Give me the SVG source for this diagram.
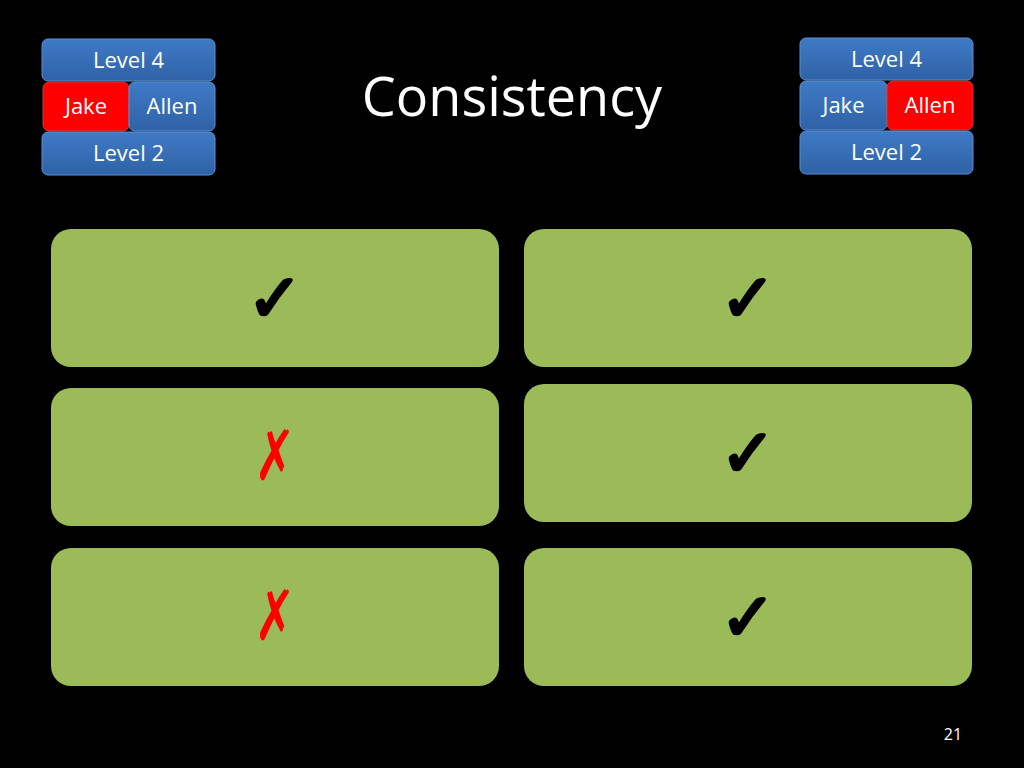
<svg xmlns="http://www.w3.org/2000/svg" width="1024" height="768" viewBox="0 0 1024 768">
<defs>
<linearGradient id="blue" x1="0" y1="0" x2="0" y2="1">
<stop offset="0" stop-color="#3f7ac6"/>
<stop offset="1" stop-color="#2f62a6"/>
</linearGradient>
</defs>
<style>
.b{fill:url(#blue);stroke:#5b8fd0;stroke-width:1}
.r{fill:#ff0000;stroke:#c04040;stroke-width:1}
.g{fill:#9bbb59}
.t{font-family:"Open Sans","Liberation Sans",sans-serif;fill:#ffffff;font-size:22px;text-anchor:middle}
.ck{font-family:"DejaVu Sans",sans-serif;font-size:66px;fill:#000000;stroke:#000000;stroke-width:3;stroke-linejoin:round;text-anchor:middle}
.x{font-family:"DejaVu Sans",sans-serif;font-size:58px;fill:#ff0000;text-anchor:middle}
</style>
<rect width="1024" height="768" fill="#000000"/>
<text x="512" y="116" font-family="Open Sans, Liberation Sans, sans-serif" font-size="54" fill="#ffffff" text-anchor="middle">Consistency</text>
<g id="left-levels">
<g id="l-level4"><rect class="b" x="42" y="39" width="173" height="42" rx="6"/><text class="t" x="128.5" y="68">Level 4</text></g>
<g id="l-jake"><rect class="r" x="43" y="82" width="86" height="49" rx="6"/><text class="t" x="86" y="114">Jake</text></g>
<g id="l-allen"><rect class="b" x="129" y="82" width="86" height="49" rx="6"/><text class="t" x="172" y="114">Allen</text></g>
<g id="l-level2"><rect class="b" x="42" y="132" width="173" height="43" rx="6"/><text class="t" x="128.5" y="161">Level 2</text></g>
</g>
<g id="right-levels">
<g id="r-level4"><rect class="b" x="800" y="38" width="173" height="42" rx="6"/><text class="t" x="886.5" y="67">Level 4</text></g>
<g id="r-jake"><rect class="b" x="800" y="81" width="87" height="49" rx="6"/><text class="t" x="843.5" y="113">Jake</text></g>
<g id="r-allen"><rect class="r" x="887" y="81" width="86" height="49" rx="6"/><text class="t" x="930" y="113">Allen</text></g>
<g id="r-level2"><rect class="b" x="800" y="131" width="173" height="43" rx="6"/><text class="t" x="886.5" y="160">Level 2</text></g>
</g>
<g id="box-l1"><rect class="g" x="51" y="229" width="448" height="138" rx="20"/><text class="ck" x="275" y="321">✓</text></g>
<g id="box-l2"><rect class="g" x="51" y="388" width="448" height="138" rx="20"/><text class="x" transform="translate(275,480) scale(0.85,1.2)">✗</text></g>
<g id="box-l3"><rect class="g" x="51" y="548" width="448" height="138" rx="20"/><text class="x" transform="translate(275,640) scale(0.85,1.2)">✗</text></g>
<g id="box-r1"><rect class="g" x="524" y="229" width="448" height="138" rx="20"/><text class="ck" x="748" y="321">✓</text></g>
<g id="box-r2"><rect class="g" x="524" y="384" width="448" height="138" rx="20"/><text class="ck" x="748" y="476">✓</text></g>
<g id="box-r3"><rect class="g" x="524" y="548" width="448" height="138" rx="20"/><text class="ck" x="748" y="640">✓</text></g>
<g id="connectors"/>
<text x="953" y="740" font-family="Open Sans, Liberation Sans, sans-serif" font-size="16" fill="#ffffff" text-anchor="middle">21</text>
</svg>
